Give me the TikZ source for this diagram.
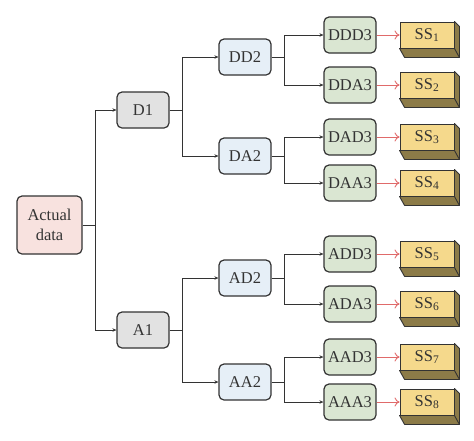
\documentclass[tikz,border=0pt]{standalone}
\usepackage{fontspec}
\setmainfont{Liberation Serif}
\usetikzlibrary{arrows.meta}
\definecolor{edgec}{HTML}{333333}
\definecolor{txtc}{HTML}{333333}
\definecolor{c0}{HTML}{F8E2DF}
\definecolor{c1}{HTML}{E2E2E2}
\definecolor{c2}{HTML}{E6EFF7}
\definecolor{c3}{HTML}{DAE6D2}
\definecolor{ssface}{HTML}{F5D98C}
\definecolor{ssdark}{HTML}{8C7B48}
\definecolor{redc}{HTML}{E06A6A}
\begin{document}
\begin{tikzpicture}[x=1pt,y=-1pt,
  box/.style={draw=edgec, line width=1.2pt, rounded corners=5pt, minimum width=52pt, minimum height=36pt, inner sep=0pt, font=\fontsize{16.5}{20}\selectfont, text=txtc},
  l0/.style={box, fill=c0, minimum width=65pt, minimum height=58pt, align=center},
  l1/.style={box, fill=c1},
  l2/.style={box, fill=c2},
  l3/.style={box, fill=c3},
  ssbox/.style={draw=edgec, line width=0.9pt, fill=ssface, minimum width=54pt, minimum height=26pt, inner sep=0pt, font=\fontsize{16.5}{20}\selectfont, text=txtc},
  ssside/.style={draw=edgec, line width=0.9pt, fill=ssdark, line join=round},
  arr/.style={draw=edgec, line width=0.9pt, -{Stealth[length=4pt,width=3.5pt]}},
  redarr/.style={draw=redc, line width=0.9pt, -{To[length=5pt,width=9pt]}}
]
\useasboundingbox (0,0) rectangle (474,440);

\node[l0] (ad) at (49.5,225) {Actual\\data};
\node[l1] (d1) at (143,110) {D1};
\node[l1] (a1) at (143,330) {A1};
\node[l2] (dd2) at (245,57) {DD2};
\node[l2] (da2) at (245,156) {DA2};
\node[l2] (ad2) at (245,278) {AD2};
\node[l2] (aa2) at (245,382) {AA2};

\foreach \n/\y/\lab/\i in {ddd/35/DDD3/1, dda/85/DDA3/2, dad/137/DAD3/3, daa/183/DAA3/4, add/254/ADD3/5, ada/304/ADA3/6, aad/357/AAD3/7, aaa/402/AAA3/8} {
  \node[l3] (\n) at (350,\y) {\lab};
  \node[ssbox] (s\i) at (427,\y) {SS\textsubscript{\i}};
  \path[ssside] (s\i.north east) -- ++(5,5) -- ([shift={(5,9)}]s\i.south east) -- ([shift={(5,9)}]s\i.south west) -- (s\i.south west) -- (s\i.south east) -- cycle;
  \draw[edgec, line width=0.9pt] (s\i.south east) -- ([shift={(5,9)}]s\i.south east);
  \draw[redarr] (\n.east) -- (s\i.west);
}

\draw[arr] (ad.east) -- ++(13,0) |- (d1.west);
\draw[arr] (ad.east) -- ++(13,0) |- (a1.west);
\draw[arr] (d1.east) -- ++(13,0) |- (dd2.west);
\draw[arr] (d1.east) -- ++(13,0) |- (da2.west);
\draw[arr] (a1.east) -- ++(13,0) |- (ad2.west);
\draw[arr] (a1.east) -- ++(13,0) |- (aa2.west);
\draw[arr] (dd2.east) -- ++(13,0) |- (ddd.west);
\draw[arr] (dd2.east) -- ++(13,0) |- (dda.west);
\draw[arr] (da2.east) -- ++(13,0) |- (dad.west);
\draw[arr] (da2.east) -- ++(13,0) |- (daa.west);
\draw[arr] (ad2.east) -- ++(13,0) |- (add.west);
\draw[arr] (ad2.east) -- ++(13,0) |- (ada.west);
\draw[arr] (aa2.east) -- ++(13,0) |- (aad.west);
\draw[arr] (aa2.east) -- ++(13,0) |- (aaa.west);
\end{tikzpicture}
\end{document}
